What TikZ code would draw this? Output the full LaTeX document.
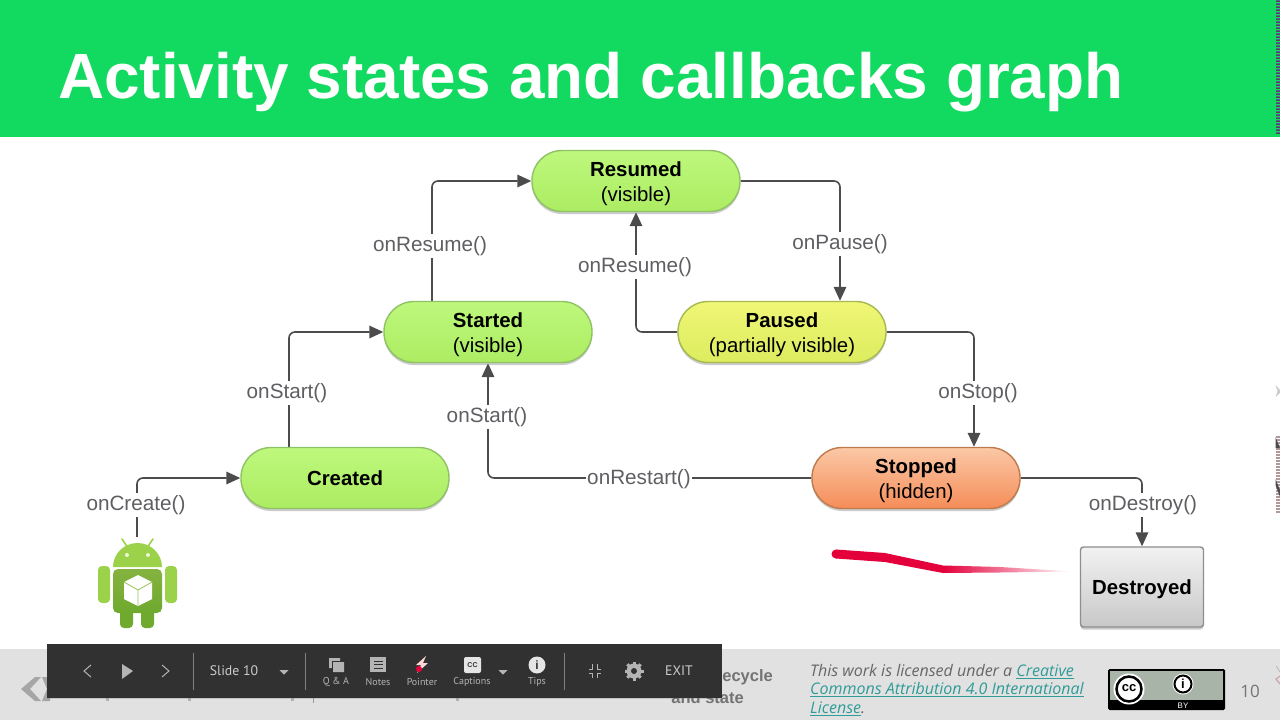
\documentclass[tikz,border=0pt]{standalone}
\usepackage{fontspec}
\setmainfont{Liberation Sans}
\newfontfamily\footfont{Open Sans}
\newfontfamily\barfont{PT Sans}
\usepackage{tikz}
\usetikzlibrary{arrows.meta,positioning,shadows,backgrounds}
\definecolor{titlegreen}{HTML}{12D95F}
\definecolor{linegray}{HTML}{4C4C4C}
\definecolor{labelgray}{HTML}{5F5F63}
\definecolor{footgray}{HTML}{E1E1E1}
\definecolor{bargray}{HTML}{313131}
\definecolor{baricon}{HTML}{B4B4B4}
\definecolor{linkteal}{HTML}{2E9C98}
\definecolor{droid}{HTML}{9CD24A}
\definecolor{droiddark}{HTML}{6FA92E}
\definecolor{penred}{HTML}{E4003A}
\definecolor{badgegray}{HTML}{A9B4A9}
\definecolor{greenedge}{HTML}{8FC265}
\definecolor{greentop}{HTML}{BEF87C}
\definecolor{greenbot}{HTML}{ACEC62}
\definecolor{yellowedge}{HTML}{A4B94F}
\definecolor{yellowtop}{HTML}{F0F676}
\definecolor{yellowbot}{HTML}{DCEC5E}
\definecolor{orangeedge}{HTML}{BE7A4C}
\definecolor{orangetop}{HTML}{FBC8A6}
\definecolor{orangebot}{HTML}{F58D58}
\definecolor{greyedge}{HTML}{8E8E8E}
\definecolor{greytop}{HTML}{F2F2F2}
\definecolor{greybot}{HTML}{C8C8C8}
\newcommand{\twolines}[2]{\rule{0pt}{20.5pt}\textbf{#1}\\#2}
\tikzstyle{arrow}=[draw=linegray,line width=1.6pt,rounded corners=6pt,-{Triangle[length=14pt,width=12.5pt]}]
\tikzstyle{block} =
  [rectangle, draw, line width=1.4pt, text centered, align=center, rounded corners=30pt,
   minimum width=208pt, minimum height=61pt, inner sep=0pt,
   drop shadow={shadow xshift=0pt,shadow yshift=-2.5pt,opacity=.4},
   font=\fontsize{20.4}{24.5}\selectfont]
\tikzstyle{greenblock}=[block, draw=greenedge, top color=greentop, bottom color=greenbot]
\tikzstyle{yellowblock}=[block, draw=yellowedge, top color=yellowtop, bottom color=yellowbot]
\tikzstyle{orangeblock}=[block, draw=orangeedge, top color=orangetop, bottom color=orangebot]
\tikzstyle{endblock}=[block, draw=greyedge, top color=greytop, bottom color=greybot,
  rounded corners=3pt, minimum width=123pt, minimum height=80pt]
\tikzstyle{call}=[text=labelgray, fill=white, inner xsep=1pt, inner ysep=2pt, font=\fontsize{20.7}{24}\selectfont]
\tikzstyle{barlabel}=[text=baricon, inner sep=0pt, font=\barfont\fontsize{10}{12}\selectfont]
\tikzstyle{bartext}=[text=white!80!black, inner sep=0pt, font=\barfont\fontsize{13.8}{16}\selectfont]
\tikzstyle{foothead}=[anchor=east, inner sep=0pt, text=black!55, font=\bfseries\fontsize{16.5}{18}\selectfont]
\begin{document}
\begin{tikzpicture}[x=1pt,y=-1pt]
  \useasboundingbox (0,0) rectangle (1280,720);
  \fill [titlegreen] (0,0) rectangle (1280,137);
  \foreach \y in {0,3,...,132} {
    \fill [gray!70!blue] (1275.5,\y) rectangle (1280,\y+1.2);
    \fill [black!70] (1275.5,\y+1.2) rectangle (1280,\y+2);
  }
  \node [anchor=west, inner sep=0pt, text=white, font=\bfseries\fontsize{63.9}{70}\selectfont] (title)
    at (58,82) {Activity states and callbacks graph};

  \node [greenblock] (resumed) at (636,181) {\twolines{Resumed}{(visible)}};
  \node [greenblock, below of=resumed, node distance=151pt, xshift=-148pt] (started) {\twolines{Started}{(visible)}};
  \node [yellowblock, right of=started, node distance=294pt] (paused) {\twolines{Paused}{(partially visible)}};
  \node [greenblock, below of=started, node distance=146pt, xshift=-143pt] (created) {\textbf{Created}};
  \node [orangeblock, below of=paused, node distance=146pt, xshift=134pt] (stopped) {\twolines{Stopped}{(hidden)}};
  \node [endblock, below of=stopped, node distance=109pt, xshift=226pt] (destroyed) {\rule{0pt}{19pt}\textbf{Destroyed}};

  \node [minimum width=30pt, minimum height=30pt, inner sep=0pt] (android) at (137,552) {};
  \draw [droid, line width=1.6pt, line cap=round] (122,539) -- (128,548) (153,539) -- (147,548);
  \fill [droid, rounded corners=4pt] (98,566) rectangle (110,603) (165,566) rectangle (177,603);
  \fill [droiddark, rounded corners=4pt] (120,605) rectangle (133,628) (141,605) rectangle (154,628);
  \fill [droid] (113,567) arc [start angle=180, end angle=0, x radius=24.5pt, y radius=24pt] -- cycle;
  \fill [white, opacity=.8] (127,555) circle (2pt) (148,555) circle (2pt);
  \shade [top color=droid!85!black, bottom color=droiddark, rounded corners=5pt] (113,569) -- (162,569) -- (162,613) -- (113,613) -- cycle;
  \fill [white] (138,575) -- (152,582) -- (152,599) -- (138,606) -- (124,599) -- (124,582) -- cycle;
  \draw [droid!80!gray, line width=.8pt] (124,582) -- (138,590) -- (152,582) (138,590) -- (138,606);

  \node [call] (oncreate) at (136,505) {onCreate()};
  \node [call] (onstartup) at (287,393) {onStart()};
  \node [call] (onresumeup) at (430,246) {onResume()};
  \node [call] (onresumeback) at (635,267) {onResume()};
  \node [call] (onpause) at (840,244) {onPause()};
  \node [call] (onstartback) at (487,417) {onStart()};
  \node [call] (onrestart) at (639,479) {onRestart()};
  \node [call] (onstop) at (978,393) {onStop()};
  \node [call] (ondestroy) at (1143,505) {onDestroy()};

  \begin{pgfonlayer}{background}
  \fill [white] (0,0) rectangle (1280,720);
  \draw [arrow] (android.north) |- (created.west);
  \draw [arrow] ([xshift=-56pt]created.north) |- (started.west);
  \draw [arrow] ([xshift=-56pt]started.north) |- (resumed.west);
  \draw [arrow] (resumed.east) -| ([xshift=58pt]paused.north);
  \draw [arrow] (paused.west) -| (resumed.south);
  \draw [arrow] (paused.east) -| ([xshift=58pt]stopped.north);
  \draw [arrow] (stopped.west) -| (started.south);
  \draw [arrow] (stopped.east) -| (destroyed.north);
  \end{pgfonlayer}

  \fill [penred] (836,554) circle (4.5pt);
  \fill [penred] (836,549.5) -- (885,553) -- (943,565.5) -- (943,573) -- (885,562) -- (836,558.5) -- cycle;
  \shade [left color=penred, middle color=penred!75!white, right color=white] (943,565.5) -- (1000,567) -- (1072,571.5) -- (1000,572.5) -- (943,573) -- cycle;

  \fill [gray!40] (1275.5,385) -- (1280,390) -- (1280,393) -- (1275.5,397) -- (1277.5,391) -- cycle;
  \foreach \y in {436,439,...,512} \fill [gray!60!pink] (1275.5,\y) rectangle (1280,\y+2);
  \fill [black!70] (1275.5,437) -- (1280,448) -- (1275.5,448) -- cycle (1275.5,485) -- (1280,497) -- (1280,490) -- (1275.5,479) -- cycle;

  \fill [footgray] (0,649) rectangle (1280,720);
  \fill [gray!70] (35,677) -- (21,689) -- (35,701) -- (41,701) -- (30,689) -- (41,677) -- cycle;
  \fill [gray!70] (42,677) -- (50,677) -- (50,701) -- (42,701) -- (47,689) -- cycle;
  \node [foothead] (footone) at (773,677) {ecycle};
  \node [foothead] (foottwo) at (744,698) {and state};
  \node [anchor=north west, inner sep=0pt, align=left, text=black!60, font=\footfont\itshape\fontsize{16}{18.6}\selectfont] (license) at (810,664)
    {This work is licensed under a \textcolor{linkteal}{\underline{Creative}}\\
     \textcolor{linkteal}{\underline{Commons Attribution 4.0 International}}\\
     \textcolor{linkteal}{\underline{License}}.};
  \node [inner sep=0pt, text=black!55, font=\footfont\fontsize{17}{20}\selectfont] (pagenum) at (1250,691) {10};
  \draw [gray!60, line width=.7pt] (1276,666) -- (1280,672);
  \draw [pink!60!gray, line width=1.2pt] (1280,676) -- (1276,679) -- (1280,684);
  \foreach \x in {107,189,292,457} \fill [gray!60] (\x-1.5,698) rectangle (\x+1.5,701);
  \fill [gray!80] (312.5,698) rectangle (313.5,703);

  \fill [black, rounded corners=1.5pt] (1108,669) rectangle (1225,710);
  \fill [badgegray] (1110,671) rectangle (1223,700);
  \fill [white] (1129,689) circle (15.5pt);
  \draw [black, line width=2.5pt] (1129,689) circle (12.5pt);
  \node [inner sep=0pt, font=\bfseries\fontsize{13}{13}\selectfont] (cclogo) at (1129,688) {cc};
  \fill [white] (1183,684) circle (10.5pt);
  \draw [black, line width=2pt] (1183,684) circle (8.5pt);
  \node [inner sep=0pt, font=\bfseries\fontsize{13}{13}\selectfont] (byicon) at (1183,684) {i};
  \node [inner sep=0pt, text=white, font=\fontsize{8}{8}\selectfont] (bylabel) at (1183,705.5) {BY};

  \fill [bargray, drop shadow={shadow xshift=0pt,shadow yshift=-1pt,opacity=.3}] (47,644) rectangle (722,698);
  \draw [baricon, line width=1pt] (91,665) -- (84,671) -- (91,677) (162,665) -- (169,671) -- (162,677);
  \fill [baricon] (122,664) -- (133,671) -- (122,679) -- cycle;
  \foreach \x in {193,305,564} \draw [gray, line width=.6pt] (\x,653) -- (\x,690);
  \node [bartext] (slide) at (234,671) {Slide 10};
  \fill [baricon] (279.5,670) -- (288.5,670) -- (284,674.5) -- cycle;
  \fill [baricon] (498.5,670) -- (507.5,670) -- (503,674.5) -- cycle;
  \node [barlabel] (qa) at (336,682) {Q \& A};
  \node [barlabel] (notes) at (378,682) {Notes};
  \node [barlabel] (pointer) at (422,682) {Pointer};
  \node [barlabel] (captions) at (472,682) {Captions};
  \node [barlabel] (tips) at (537,682) {Tips};
  \node [bartext] (exit) at (679,671) {EXIT};
  \fill [baricon] (329,658) rectangle (340,668) (333,662) rectangle (344,672);
  \draw [bargray, line width=.8pt] (332.5,661.5) rectangle (345,673);
  \fill [baricon] (370,657) rectangle (386,672);
  \draw [bargray, line width=1pt] (374,661) -- (383,661) (374,664.5) -- (383,664.5) (374,668) -- (383,668);
  \fill [white!85!red] (426,656) -- (416,665) -- (421,665) -- (417,673) -- (428,663) -- (423,663) -- cycle;
  \fill [penred] (419,669) circle (3pt);
  \fill [white!90!black, rounded corners=2pt] (464,657) rectangle (481,673);
  \node [inner sep=0pt, text=bargray, font=\bfseries\fontsize{7}{7}\selectfont] (cc) at (472.5,665) {CC};
  \fill [white!90!black] (537,665) circle (8.5pt);
  \node [inner sep=0pt, text=bargray, font=\bfseries\fontsize{12}{12}\selectfont] (info) at (537,665) {i};
  \draw [baricon, line width=1pt] (592,664) -- (592,669) -- (589,669) (597,664) -- (597,669) -- (601,669)
    (592,678) -- (592,673) -- (589,673) (597,678) -- (597,673) -- (601,673);
  \foreach \a in {0,45,...,315} \draw [baricon, line width=3pt] (634,671) -- ++(\a:9.5pt);
  \fill [baricon] (634,671) circle (7.5pt);
  \fill [bargray] (634,671) circle (3pt);
\end{tikzpicture}
\end{document}
